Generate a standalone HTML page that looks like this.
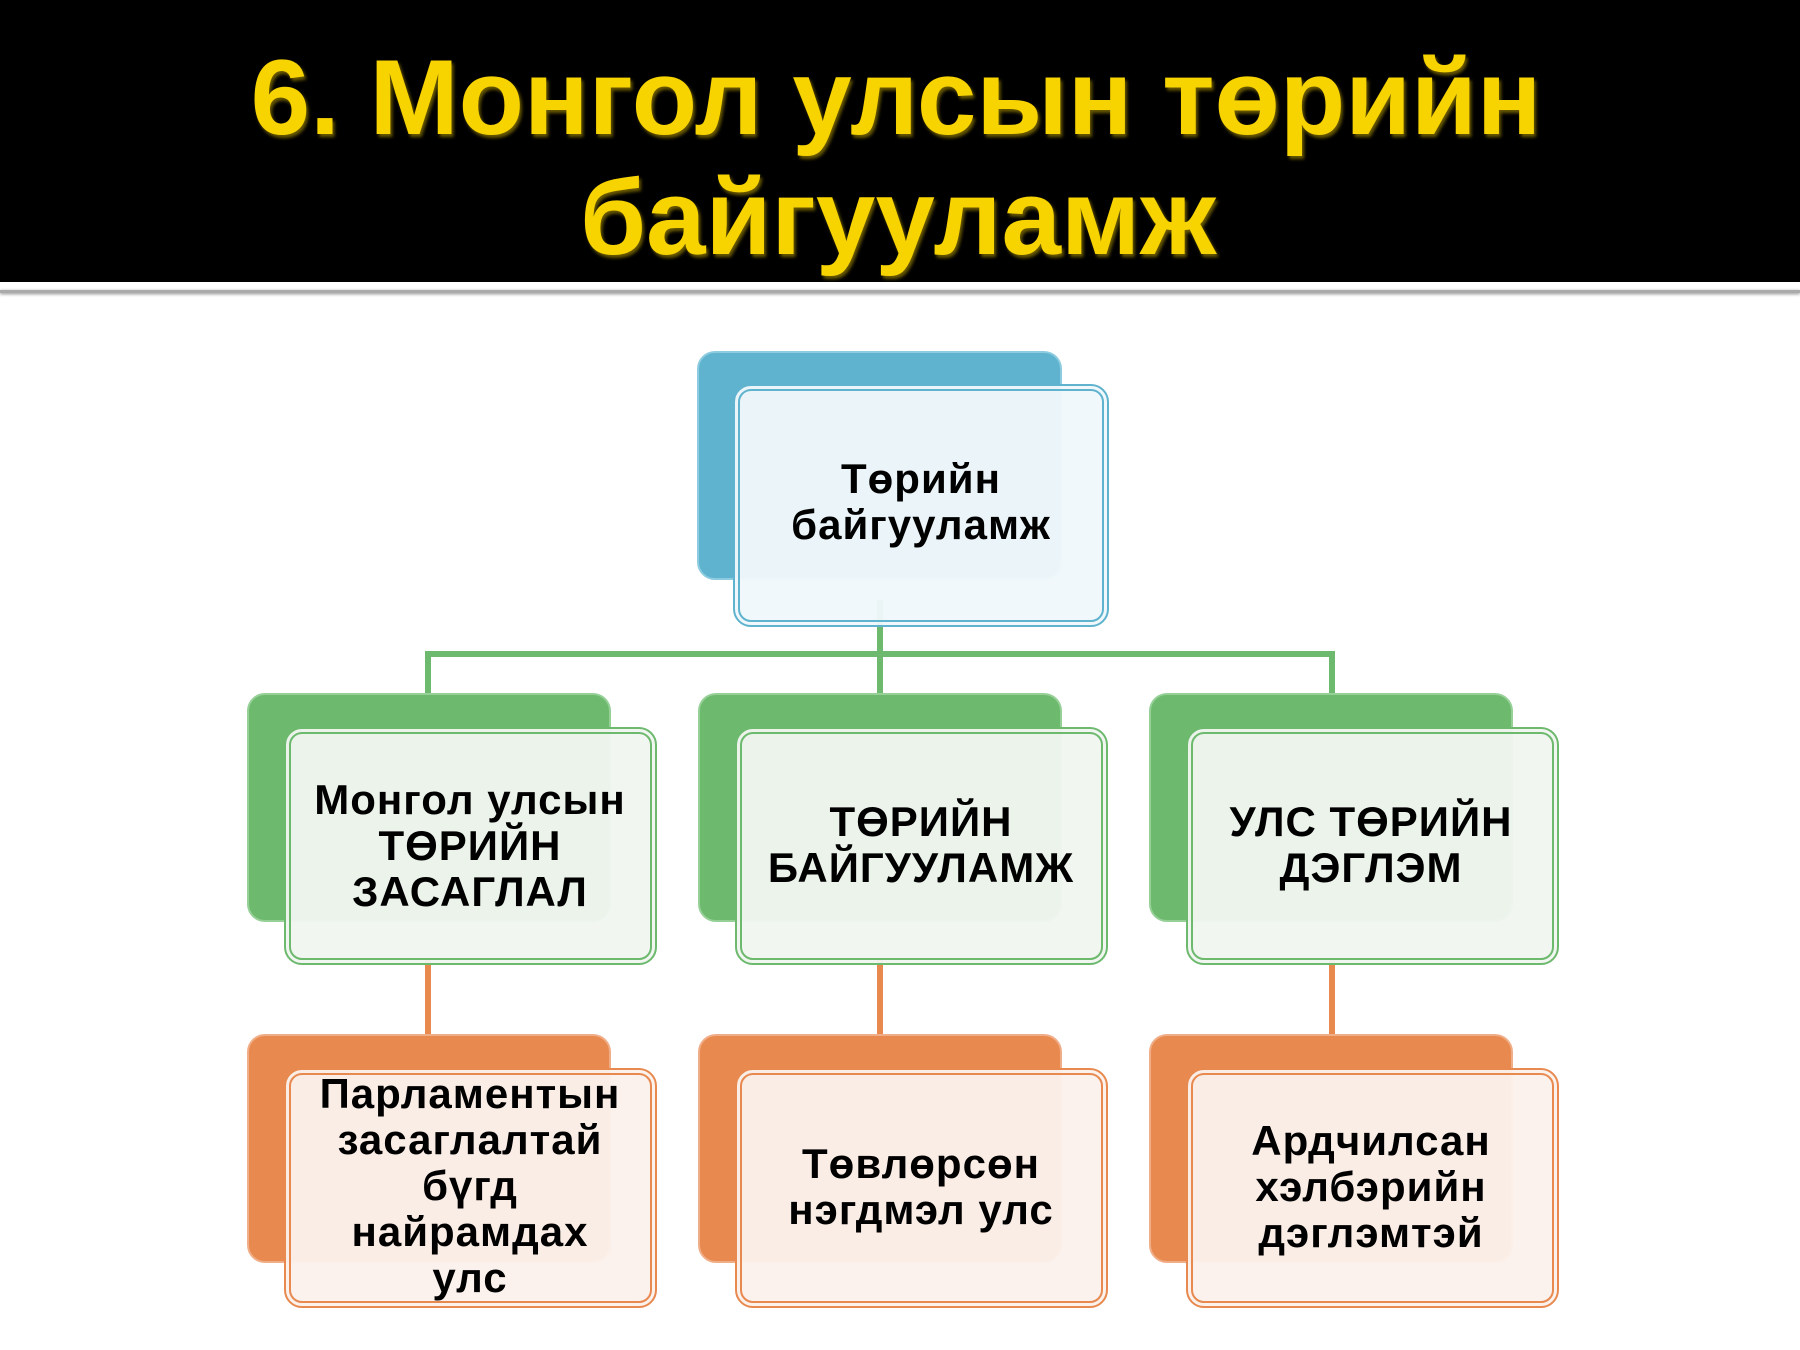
<!DOCTYPE html>
<html><head><meta charset="utf-8"><style>
body{margin:0;width:1800px;height:1350px;background:#fff;position:relative;overflow:hidden;font-family:"Liberation Sans",Arial,sans-serif}
.hdr{position:absolute;left:0;top:0;width:1800px;height:282px;background:#000}
.gl{position:absolute;left:0;top:290px;width:1800px;height:3px;background:#aaa;box-shadow:0 1px 3px #888}
.t{position:absolute;left:0;width:1800px;text-align:center;font-weight:bold;font-size:107px;color:#f7d300;text-shadow:2px 3px 3px #6a5a00;line-height:107px}
.b{position:absolute;border-radius:18px;box-sizing:border-box}
.txt{position:absolute;text-align:center;font-weight:bold;font-size:42px;line-height:46px;color:#000;width:420px;letter-spacing:1px}
.ln{position:absolute}
</style></head><body>
<div class="hdr"></div>
<div class="t" style="top:44px;left:-4px">6. Монгол улсын төрийн</div>
<div class="t" style="top:164px;left:-2px">байгууламж</div>
<div class="gl"></div>

<div class="ln" style="left:877px;top:600px;width:6px;height:93px;background:#6db96e"></div>
<div class="ln" style="left:425px;top:651px;width:910px;height:6px;background:#6db96e"></div>
<div class="ln" style="left:425px;top:651px;width:6px;height:42px;background:#6db96e"></div>
<div class="ln" style="left:1329px;top:651px;width:6px;height:42px;background:#6db96e"></div>
<div class="ln" style="left:425px;top:960px;width:6px;height:74px;background:#e8894f"></div>
<div class="ln" style="left:877px;top:960px;width:6px;height:74px;background:#e8894f"></div>
<div class="ln" style="left:1329px;top:960px;width:6px;height:74px;background:#e8894f"></div>

<div class="b" style="left:697px;top:351px;width:365px;height:229px;background:#5fb3ce;border:2px solid #8ccbe0"></div>
<div class="b" style="left:733px;top:384px;width:376px;height:243px;background:rgba(240,248,251,0.96);border:7px double #5fb3ce"></div>
<div class="txt" style="left:711px;top:456px">Төрийн<br>байгууламж</div>

<div class="b" style="left:247px;top:693px;width:364px;height:229px;background:#6db96e;border:2px solid #96d097"></div>
<div class="b" style="left:284px;top:727px;width:373px;height:238px;background:rgba(240,246,240,0.96);border:7px double #6db96e"></div>
<div class="txt" style="left:260px;top:777px">Монгол улсын<br>ТӨРИЙН<br>ЗАСАГЛАЛ</div>

<div class="b" style="left:698px;top:693px;width:364px;height:229px;background:#6db96e;border:2px solid #96d097"></div>
<div class="b" style="left:735px;top:727px;width:373px;height:238px;background:rgba(240,246,240,0.96);border:7px double #6db96e"></div>
<div class="txt" style="left:711px;top:799px">ТӨРИЙН<br>БАЙГУУЛАМЖ</div>

<div class="b" style="left:1149px;top:693px;width:364px;height:229px;background:#6db96e;border:2px solid #96d097"></div>
<div class="b" style="left:1186px;top:727px;width:373px;height:238px;background:rgba(240,246,240,0.96);border:7px double #6db96e"></div>
<div class="txt" style="left:1161px;top:799px">УЛС ТӨРИЙН<br>ДЭГЛЭМ</div>

<div class="b" style="left:247px;top:1034px;width:364px;height:229px;background:#e8894f;border:2px solid #f0ae88"></div>
<div class="b" style="left:284px;top:1068px;width:373px;height:240px;background:rgba(251,241,236,0.96);border:7px double #e8894f"></div>
<div class="txt" style="left:260px;top:1071px">Парламентын<br>засаглалтай<br>бүгд<br>найрамдах<br>улс</div>

<div class="b" style="left:698px;top:1034px;width:364px;height:229px;background:#e8894f;border:2px solid #f0ae88"></div>
<div class="b" style="left:735px;top:1068px;width:373px;height:240px;background:rgba(251,241,236,0.96);border:7px double #e8894f"></div>
<div class="txt" style="left:711px;top:1141px">Төвлөрсөн<br>нэгдмэл улс</div>

<div class="b" style="left:1149px;top:1034px;width:364px;height:229px;background:#e8894f;border:2px solid #f0ae88"></div>
<div class="b" style="left:1186px;top:1068px;width:373px;height:240px;background:rgba(251,241,236,0.96);border:7px double #e8894f"></div>
<div class="txt" style="left:1161px;top:1118px">Ардчилсан<br>хэлбэрийн<br>дэглэмтэй</div>
</body></html>
